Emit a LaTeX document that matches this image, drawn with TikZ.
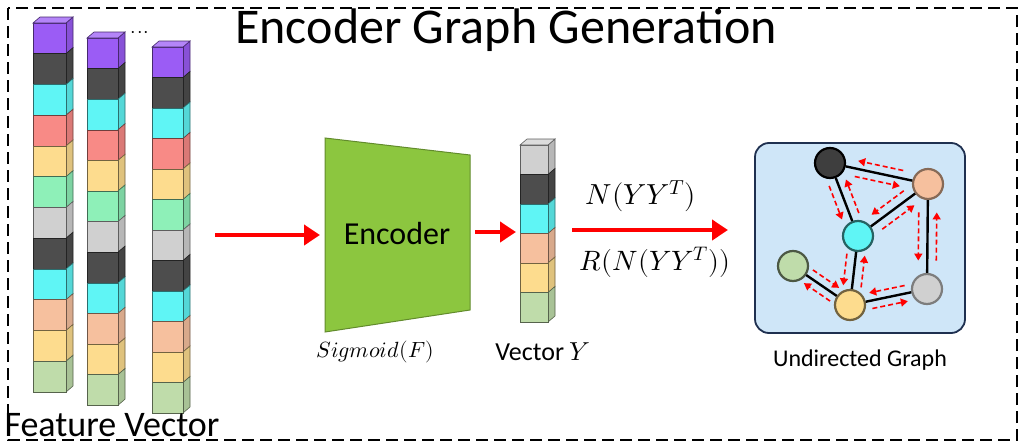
\documentclass[tikz,border=0pt]{standalone}
\usepackage{unicode-math}
\setmainfont{Carlito}
\setmathfont{Latin Modern Math}
\usetikzlibrary{calc,arrows.meta}
\definecolor{cP}{HTML}{9B5CF5}
\definecolor{cD}{HTML}{4D4D4D}
\definecolor{cC}{HTML}{5FF5F5}
\definecolor{cR}{HTML}{F88A86}
\definecolor{cY}{HTML}{FDDC8E}
\definecolor{cM}{HTML}{8EF0B8}
\definecolor{cG}{HTML}{D0D0D0}
\definecolor{cE}{HTML}{F6C09E}
\definecolor{cS}{HTML}{BFDCAA}
\definecolor{encg}{HTML}{8CC63F}
\definecolor{gbox}{HTML}{CFE6F8}
\definecolor{navy}{HTML}{1F3050}
\newcommand{\blockcol}[5]{% x, ytop, width, h, list
  \foreach \c [count=\i from 0] in {#5} {
    \pgfmathsetmacro{\yy}{#2+\i*#4}
    \fill[\c!88!black,draw=\c!45!black,line width=0.6pt] (#1+#3,\yy) -- ++(7,-6) -- ++(0,#4) -- ++(-7,6) -- cycle;
    \fill[\c,draw=\c!45!black,line width=0.6pt] (#1,\yy) rectangle ++(#3,#4);
    \ifnum\i=0
      \fill[\c!75!white,draw=\c!45!black,line width=0.6pt] (#1,\yy) -- ++(7,-6) -- ++(#3,0) -- ++(-7,6) -- cycle;
    \fi
  }}
\tikzset{
  redarrow/.style={draw=red,line width=4.5pt,-{Triangle[length=16pt,width=20pt]}},
  gnode/.style={circle,minimum size=30pt,inner sep=0pt,line width=2.2pt},
  gedge/.style={line width=2.4pt,black},
  rda/.style={red,line width=1.6pt,dash pattern=on 5pt off 3pt,-{Triangle[length=7pt,width=8pt]}},
  lbl/.style={inner sep=0pt}
}
\newcommand{\darr}[3]{\draw[rda] ($(#1)!0.27!(#2)!#3!90:(#2)$) -- ($(#1)!0.73!(#2)!#3!90:(#2)$);}
\begin{document}
\begin{tikzpicture}[x=1pt,y=-1pt]
\useasboundingbox (0,0) rectangle (1025,447);
\draw[line width=1.8pt,dash pattern=on 12pt off 6pt] (8,8) rectangle (1017,440);
\node[lbl,font=\fontsize{50}{54}\selectfont] (title) at (506,30) {Encoder Graph Generation};
% columns
\blockcol{33}{23}{33}{30.75}{cP,cD,cC,cR,cY,cM,cG,cD,cC,cE,cY,cS}
\blockcol{87}{38}{31}{30.6}{cP,cD,cC,cR,cY,cM,cG,cD,cC,cE,cY,cS}
\blockcol{152}{47}{31}{30.5}{cP,cD,cC,cR,cY,cM,cG,cD,cC,cE,cY,cS}
\node[lbl,font=\fontsize{20}{20}\selectfont] (dots) at (140,34) {$\cdot\!\cdot\!\cdot$};
\node[lbl,font=\fontsize{36}{38}\selectfont] (fv) at (112,425) {Feature Vector};
\coordinate (fvr) at (215,235);
% encoder
\draw[fill=encg,draw=encg!70!black,line width=1pt] (325,138) -- (470,155) -- (470,310) -- (325,332) -- cycle;
\node[lbl,font=\fontsize{32}{34}\selectfont] (enc) at (397,233) {Encoder};
\coordinate (encl) at (320,235);
\coordinate (encr) at (475,232);
\draw[redarrow] (fvr) -- (encl);
\node[lbl,font=\fontsize{22}{24}\selectfont] (sig) at (375,352) {$Sigmoid(F)$};
% vector Y
\blockcol{520}{145}{28}{29.5}{cG,cD,cC,cE,cY,cS}
\coordinate (vl) at (516,232);
\draw[redarrow] (encr) -- (vl);
\node[lbl,font=\fontsize{26}{28}\selectfont] (vy) at (543,352) {Vector $Y$};
\coordinate (vr) at (572,230);
\coordinate (gl) at (728,230);
\draw[redarrow] (vr) -- (gl);
\node[lbl,font=\fontsize{29}{31}\selectfont] (n1) at (641,196) {$N(YY^T)$};
\node[lbl,font=\fontsize{28}{30}\selectfont] (n2) at (655,262) {$R(N(YY^T))$};
% graph
\draw[fill=gbox,draw=navy,line width=1.8pt,rounded corners=14pt] (755,143) rectangle (965,333);
\node[gnode,fill=cD!80!black,draw=black] (k) at (830,163) {};
\node[gnode,fill=cE,draw=cE!55!black] (o) at (928,184) {};
\node[gnode,fill=cC,draw=cC!40!black] (c) at (858,236) {};
\node[gnode,fill=cS,draw=cS!40!black] (g) at (793,266) {};
\node[gnode,fill=cY,draw=cY!45!black] (y) at (850,305) {};
\node[gnode,fill=cG,draw=cG!60!black] (w) at (927,289) {};
\draw[gedge] (k)--(o) (k)--(c) (o)--(c) (o)--(w) (c)--(y) (g)--(y) (y)--(w);
\darr{o}{k}{-8pt}
\darr{k}{o}{-8pt}
\darr{k}{c}{-9pt}
\darr{c}{k}{-9pt}
\darr{c}{o}{-9pt}
\darr{o}{c}{-9pt}
\darr{o}{w}{-9pt}
\darr{w}{o}{-9pt}
\darr{c}{y}{-9pt}
\darr{y}{c}{-9pt}
\darr{y}{w}{-8pt}
\darr{w}{y}{-8pt}
\darr{g}{y}{8pt}
\darr{y}{g}{8pt}
\node[lbl,font=\fontsize{24}{26}\selectfont] (ug) at (860,360) {Undirected Graph};
\end{tikzpicture}
\end{document}
